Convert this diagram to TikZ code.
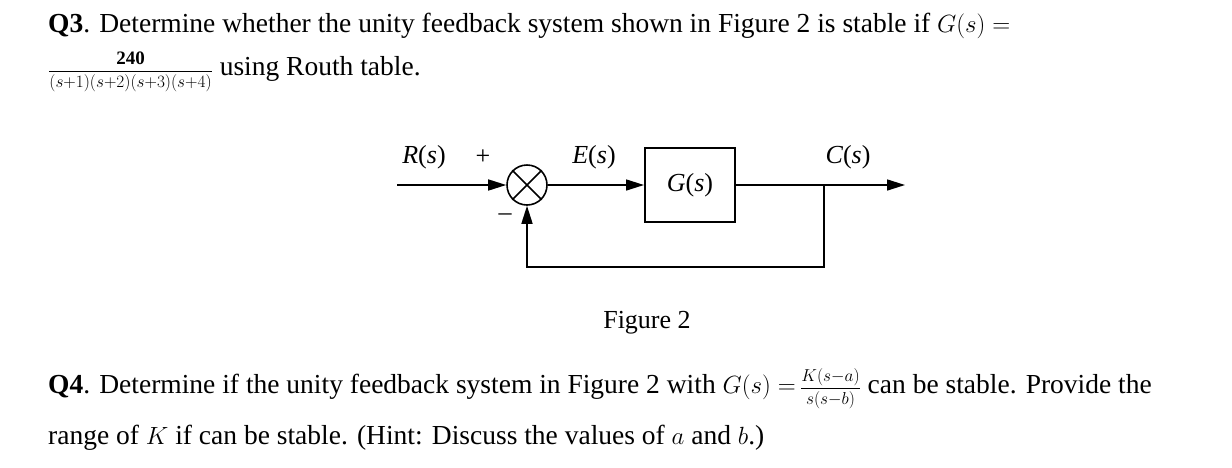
\documentclass[tikz,border=0pt]{standalone}
\usepackage{fontspec}
\setmainfont{Liberation Serif}
\usetikzlibrary{arrows.meta}
\newcommand{\smallfrac}[2]{{\fontsize{19}{21}\selectfont$\displaystyle\frac{#1}{#2}$}}
\begin{document}
\begin{tikzpicture}[x=1pt,y=-1pt,
  txt/.style={anchor=base west,inner sep=0pt,font=\fontsize{27.5}{30}\selectfont},
  lbl/.style={inner sep=0pt,font=\fontsize{26}{30}\selectfont},
  sig/.style={line width=1.6pt},
  arr/.style={sig,-{Triangle[length=18pt,width=11pt]}}]
\useasboundingbox (0,0) rectangle (1232,467);
\node[txt] (l1) at (48,32) {\textbf{Q3}. Determine whether the unity feedback system shown in Figure 2 is stable if $G(s)=$};
\node[txt] (l2) at (48,75) {\raisebox{-1pt}{\smallfrac{\mathbf{240}}{(s{+}1)(s{+}2)(s{+}3)(s{+}4)}} using Routh table.};
% diagram
\node[draw,circle,line width=1.6pt,minimum size=40pt,inner sep=0pt] (sum) at (527,185) {};
\draw[line width=1.6pt] (sum.north west)--(sum.south east) (sum.north east)--(sum.south west);
\node[draw,line width=2pt,minimum width=90pt,minimum height=74pt,lbl] (G) at (690,185) {\textit{G}(\textit{s})};
\coordinate (in) at (397,185);
\coordinate (out) at (905,185);
\coordinate (br) at (824,185);
\coordinate (bl) at (824,267);
\coordinate (bb) at (527,267);
\draw[arr] (in) -- (sum.west);
\draw[arr] (sum.east) -- (G.west);
\draw[arr] (G.east) -- (out);
\draw[arr] (br) -- (bl) -- (bb) -- (sum.south);
\node[lbl] (R) at (424,157) {\textit{R}(\textit{s})};
\node[lbl] (p) at (483,157) {+};
\node[lbl] (E) at (594,157) {\textit{E}(\textit{s})};
\node[lbl] (C) at (848,157) {\textit{C}(\textit{s})};
\node[lbl] (m) at (505,217) {\textendash};
\node[lbl] (fig) at (647,323) {Figure 2};
\node[txt] (l3) at (48,393) {\textbf{Q4}. Determine if the unity feedback system in Figure 2 with $G(s)=$\,\smallfrac{K(s{-}a)}{s(s{-}b)} can be stable. Provide the};
\node[txt] (l4) at (48,444) {range of $K$ if can be stable. (Hint: Discuss the values of $a$ and $b$.)};
\end{tikzpicture}
\end{document}
